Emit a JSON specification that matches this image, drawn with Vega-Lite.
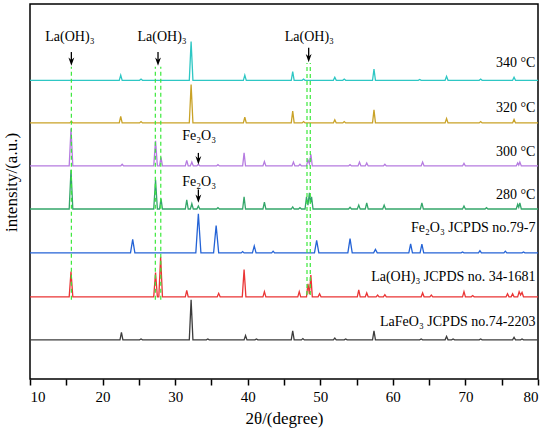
{
  "$schema": "https://vega.github.io/schema/vega-lite/v6.json",
  "width": 508,
  "height": 375,
  "autosize": "none",
  "padding": {"left": 30, "top": 4, "right": 12, "bottom": 51},
  "config": {
    "font": "Liberation Serif",
    "view": {"stroke": "#000000", "strokeWidth": 1.5}
  },
  "datasets": {
    "spectra": [
      {"sample":"c340","theta":10,"y":6.87},{"sample":"c340","theta":22.3,"y":6.87},{"sample":"c340","theta":22.5,"y":6.99},{"sample":"c340","theta":22.7,"y":6.87},{"sample":"c340","theta":25.1,"y":6.87},{"sample":"c340","theta":25.3,"y":6.9},{"sample":"c340","theta":25.5,"y":6.87},{"sample":"c340","theta":31.95,"y":6.87},{"sample":"c340","theta":32.2,"y":7.76},{"sample":"c340","theta":32.45,"y":6.87},{"sample":"c340","theta":39.4,"y":6.87},{"sample":"c340","theta":39.6,"y":6.99},{"sample":"c340","theta":39.8,"y":6.87},{"sample":"c340","theta":46.0,"y":6.87},{"sample":"c340","theta":46.2,"y":7.07},{"sample":"c340","theta":46.4,"y":6.87},{"sample":"c340","theta":47.5,"y":6.87},{"sample":"c340","theta":47.7,"y":6.9},{"sample":"c340","theta":47.9,"y":6.87},{"sample":"c340","theta":51.8,"y":6.87},{"sample":"c340","theta":52.0,"y":6.94},{"sample":"c340","theta":52.2,"y":6.87},{"sample":"c340","theta":53.1,"y":6.87},{"sample":"c340","theta":53.3,"y":6.9},{"sample":"c340","theta":53.5,"y":6.87},{"sample":"c340","theta":57.2,"y":6.87},{"sample":"c340","theta":57.4,"y":7.13},{"sample":"c340","theta":57.6,"y":6.87},{"sample":"c340","theta":63.5,"y":6.87},{"sample":"c340","theta":63.7,"y":6.89},{"sample":"c340","theta":63.9,"y":6.87},{"sample":"c340","theta":67.2,"y":6.87},{"sample":"c340","theta":67.4,"y":6.96},{"sample":"c340","theta":67.6,"y":6.87},{"sample":"c340","theta":71.9,"y":6.87},{"sample":"c340","theta":72.1,"y":6.9},{"sample":"c340","theta":72.3,"y":6.87},{"sample":"c340","theta":76.5,"y":6.87},{"sample":"c340","theta":76.7,"y":6.94},{"sample":"c340","theta":76.9,"y":6.87},{"sample":"c340","theta":80,"y":6.87},

      {"sample":"c320","theta":10,"y":5.89},{"sample":"c320","theta":15.5,"y":5.89},{"sample":"c320","theta":15.7,"y":5.93},{"sample":"c320","theta":15.9,"y":5.89},{"sample":"c320","theta":22.3,"y":5.89},{"sample":"c320","theta":22.5,"y":6.04},{"sample":"c320","theta":22.7,"y":5.89},{"sample":"c320","theta":25.1,"y":5.89},{"sample":"c320","theta":25.3,"y":5.92},{"sample":"c320","theta":25.5,"y":5.89},{"sample":"c320","theta":31.95,"y":5.89},{"sample":"c320","theta":32.2,"y":6.77},{"sample":"c320","theta":32.45,"y":5.89},{"sample":"c320","theta":39.4,"y":5.89},{"sample":"c320","theta":39.6,"y":6.02},{"sample":"c320","theta":39.8,"y":5.89},{"sample":"c320","theta":46.0,"y":5.89},{"sample":"c320","theta":46.2,"y":6.16},{"sample":"c320","theta":46.4,"y":5.89},{"sample":"c320","theta":47.5,"y":5.89},{"sample":"c320","theta":47.7,"y":5.92},{"sample":"c320","theta":47.9,"y":5.89},{"sample":"c320","theta":51.8,"y":5.89},{"sample":"c320","theta":52.0,"y":5.96},{"sample":"c320","theta":52.2,"y":5.89},{"sample":"c320","theta":53.1,"y":5.89},{"sample":"c320","theta":53.3,"y":5.92},{"sample":"c320","theta":53.5,"y":5.89},{"sample":"c320","theta":57.2,"y":5.89},{"sample":"c320","theta":57.4,"y":6.19},{"sample":"c320","theta":57.6,"y":5.89},{"sample":"c320","theta":67.2,"y":5.89},{"sample":"c320","theta":67.4,"y":5.99},{"sample":"c320","theta":67.6,"y":5.89},{"sample":"c320","theta":71.9,"y":5.89},{"sample":"c320","theta":72.1,"y":5.92},{"sample":"c320","theta":72.3,"y":5.89},{"sample":"c320","theta":76.5,"y":5.89},{"sample":"c320","theta":76.7,"y":5.97},{"sample":"c320","theta":76.9,"y":5.89},{"sample":"c320","theta":80,"y":5.89},

      {"sample":"c300","theta":10,"y":4.9},{"sample":"c300","theta":15.4,"y":4.9},{"sample":"c300","theta":15.65,"y":5.76},{"sample":"c300","theta":15.9,"y":4.9},{"sample":"c300","theta":22.5,"y":4.9},{"sample":"c300","theta":22.7,"y":4.94},{"sample":"c300","theta":22.9,"y":4.9},{"sample":"c300","theta":27.05,"y":4.9},{"sample":"c300","theta":27.3,"y":5.48},{"sample":"c300","theta":27.55,"y":4.9},{"sample":"c300","theta":27.85,"y":4.9},{"sample":"c300","theta":28.05,"y":5.1},{"sample":"c300","theta":28.25,"y":4.9},{"sample":"c300","theta":31.4,"y":4.9},{"sample":"c300","theta":31.6,"y":5.03},{"sample":"c300","theta":31.8,"y":4.9},{"sample":"c300","theta":32.1,"y":4.9},{"sample":"c300","theta":32.3,"y":4.99},{"sample":"c300","theta":32.5,"y":4.9},{"sample":"c300","theta":33.0,"y":4.9},{"sample":"c300","theta":33.2,"y":4.94},{"sample":"c300","theta":33.4,"y":4.9},{"sample":"c300","theta":35.7,"y":4.9},{"sample":"c300","theta":35.9,"y":4.93},{"sample":"c300","theta":36.1,"y":4.9},{"sample":"c300","theta":39.3,"y":4.9},{"sample":"c300","theta":39.5,"y":5.2},{"sample":"c300","theta":39.7,"y":4.9},{"sample":"c300","theta":42.1,"y":4.9},{"sample":"c300","theta":42.3,"y":5.0},{"sample":"c300","theta":42.5,"y":4.9},{"sample":"c300","theta":46.1,"y":4.9},{"sample":"c300","theta":46.3,"y":4.99},{"sample":"c300","theta":46.5,"y":4.9},{"sample":"c300","theta":47.0,"y":4.9},{"sample":"c300","theta":47.2,"y":4.94},{"sample":"c300","theta":47.4,"y":4.9},{"sample":"c300","theta":48.1,"y":4.9},{"sample":"c300","theta":48.3,"y":5.04},{"sample":"c300","theta":48.5,"y":4.95},{"sample":"c300","theta":48.7,"y":5.17},{"sample":"c300","theta":48.9,"y":4.9},{"sample":"c300","theta":53.9,"y":4.9},{"sample":"c300","theta":54.1,"y":4.93},{"sample":"c300","theta":54.3,"y":4.9},{"sample":"c300","theta":55.2,"y":4.9},{"sample":"c300","theta":55.4,"y":4.99},{"sample":"c300","theta":55.6,"y":4.9},{"sample":"c300","theta":56.2,"y":4.9},{"sample":"c300","theta":56.4,"y":4.97},{"sample":"c300","theta":56.6,"y":4.9},{"sample":"c300","theta":58.7,"y":4.9},{"sample":"c300","theta":58.9,"y":4.94},{"sample":"c300","theta":59.1,"y":4.9},{"sample":"c300","theta":63.9,"y":4.9},{"sample":"c300","theta":64.1,"y":4.99},{"sample":"c300","theta":64.3,"y":4.9},{"sample":"c300","theta":69.6,"y":4.9},{"sample":"c300","theta":69.8,"y":4.96},{"sample":"c300","theta":70.0,"y":4.9},{"sample":"c300","theta":77.0,"y":4.9},{"sample":"c300","theta":77.2,"y":4.97},{"sample":"c300","theta":77.35,"y":4.92},{"sample":"c300","theta":77.5,"y":4.99},{"sample":"c300","theta":77.7,"y":4.9},{"sample":"c300","theta":80,"y":4.9},

      {"sample":"c280","theta":10,"y":3.91},{"sample":"c280","theta":15.4,"y":3.91},{"sample":"c280","theta":15.65,"y":4.81},{"sample":"c280","theta":15.9,"y":3.91},{"sample":"c280","theta":27.05,"y":3.91},{"sample":"c280","theta":27.3,"y":4.58},{"sample":"c280","theta":27.55,"y":3.91},{"sample":"c280","theta":27.85,"y":3.91},{"sample":"c280","theta":28.05,"y":4.15},{"sample":"c280","theta":28.25,"y":3.91},{"sample":"c280","theta":31.4,"y":3.91},{"sample":"c280","theta":31.6,"y":4.12},{"sample":"c280","theta":31.8,"y":3.91},{"sample":"c280","theta":32.1,"y":3.91},{"sample":"c280","theta":32.3,"y":4.03},{"sample":"c280","theta":32.5,"y":3.91},{"sample":"c280","theta":33.0,"y":3.91},{"sample":"c280","theta":33.2,"y":3.98},{"sample":"c280","theta":33.4,"y":3.91},{"sample":"c280","theta":35.7,"y":3.91},{"sample":"c280","theta":35.9,"y":3.94},{"sample":"c280","theta":36.1,"y":3.91},{"sample":"c280","theta":39.3,"y":3.91},{"sample":"c280","theta":39.5,"y":4.19},{"sample":"c280","theta":39.7,"y":3.91},{"sample":"c280","theta":42.1,"y":3.91},{"sample":"c280","theta":42.3,"y":4.07},{"sample":"c280","theta":42.5,"y":3.91},{"sample":"c280","theta":46.0,"y":3.91},{"sample":"c280","theta":46.2,"y":3.96},{"sample":"c280","theta":46.4,"y":3.91},{"sample":"c280","theta":47.0,"y":3.91},{"sample":"c280","theta":47.2,"y":3.94},{"sample":"c280","theta":47.4,"y":3.91},{"sample":"c280","theta":47.9,"y":3.91},{"sample":"c280","theta":48.1,"y":4.19},{"sample":"c280","theta":48.3,"y":4.0},{"sample":"c280","theta":48.5,"y":4.28},{"sample":"c280","theta":48.65,"y":4.05},{"sample":"c280","theta":48.8,"y":4.19},{"sample":"c280","theta":49.0,"y":3.91},{"sample":"c280","theta":53.9,"y":3.91},{"sample":"c280","theta":54.1,"y":3.95},{"sample":"c280","theta":54.3,"y":3.91},{"sample":"c280","theta":55.1,"y":3.91},{"sample":"c280","theta":55.3,"y":4.0},{"sample":"c280","theta":55.5,"y":3.91},{"sample":"c280","theta":56.2,"y":3.91},{"sample":"c280","theta":56.4,"y":4.05},{"sample":"c280","theta":56.6,"y":3.91},{"sample":"c280","theta":58.6,"y":3.91},{"sample":"c280","theta":58.8,"y":4.0},{"sample":"c280","theta":59.0,"y":3.91},{"sample":"c280","theta":63.8,"y":3.91},{"sample":"c280","theta":64.0,"y":4.05},{"sample":"c280","theta":64.2,"y":3.91},{"sample":"c280","theta":69.6,"y":3.91},{"sample":"c280","theta":69.8,"y":3.98},{"sample":"c280","theta":70.0,"y":3.91},{"sample":"c280","theta":72.7,"y":3.91},{"sample":"c280","theta":72.9,"y":3.94},{"sample":"c280","theta":73.1,"y":3.91},{"sample":"c280","theta":77.0,"y":3.91},{"sample":"c280","theta":77.2,"y":4.02},{"sample":"c280","theta":77.35,"y":3.95},{"sample":"c280","theta":77.5,"y":4.05},{"sample":"c280","theta":77.7,"y":3.91},{"sample":"c280","theta":80,"y":3.91},

      {"sample":"fe2o3","theta":10,"y":2.9},{"sample":"fe2o3","theta":23.85,"y":2.9},{"sample":"fe2o3","theta":24.15,"y":3.21},{"sample":"fe2o3","theta":24.45,"y":2.9},{"sample":"fe2o3","theta":32.85,"y":2.9},{"sample":"fe2o3","theta":33.2,"y":3.8},{"sample":"fe2o3","theta":33.55,"y":2.9},{"sample":"fe2o3","theta":35.3,"y":2.9},{"sample":"fe2o3","theta":35.65,"y":3.53},{"sample":"fe2o3","theta":36.0,"y":2.9},{"sample":"fe2o3","theta":39.1,"y":2.9},{"sample":"fe2o3","theta":39.3,"y":2.93},{"sample":"fe2o3","theta":39.5,"y":2.9},{"sample":"fe2o3","theta":40.65,"y":2.9},{"sample":"fe2o3","theta":40.9,"y":3.06},{"sample":"fe2o3","theta":41.15,"y":2.9},{"sample":"fe2o3","theta":43.3,"y":2.9},{"sample":"fe2o3","theta":43.5,"y":2.94},{"sample":"fe2o3","theta":43.7,"y":2.9},{"sample":"fe2o3","theta":49.2,"y":2.9},{"sample":"fe2o3","theta":49.5,"y":3.19},{"sample":"fe2o3","theta":49.8,"y":2.9},{"sample":"fe2o3","theta":53.8,"y":2.9},{"sample":"fe2o3","theta":54.1,"y":3.23},{"sample":"fe2o3","theta":54.4,"y":2.9},{"sample":"fe2o3","theta":57.35,"y":2.9},{"sample":"fe2o3","theta":57.6,"y":2.98},{"sample":"fe2o3","theta":57.85,"y":2.9},{"sample":"fe2o3","theta":62.2,"y":2.9},{"sample":"fe2o3","theta":62.45,"y":3.11},{"sample":"fe2o3","theta":62.7,"y":2.9},{"sample":"fe2o3","theta":63.75,"y":2.9},{"sample":"fe2o3","theta":64.0,"y":3.1},{"sample":"fe2o3","theta":64.25,"y":2.9},{"sample":"fe2o3","theta":69.4,"y":2.9},{"sample":"fe2o3","theta":69.6,"y":2.92},{"sample":"fe2o3","theta":69.8,"y":2.9},{"sample":"fe2o3","theta":71.8,"y":2.9},{"sample":"fe2o3","theta":72.0,"y":2.95},{"sample":"fe2o3","theta":72.2,"y":2.9},{"sample":"fe2o3","theta":75.3,"y":2.9},{"sample":"fe2o3","theta":75.5,"y":2.94},{"sample":"fe2o3","theta":75.7,"y":2.9},{"sample":"fe2o3","theta":77.8,"y":2.9},{"sample":"fe2o3","theta":78.0,"y":2.92},{"sample":"fe2o3","theta":78.2,"y":2.9},{"sample":"fe2o3","theta":80,"y":2.9},

      {"sample":"laoh3","theta":10,"y":1.89},{"sample":"laoh3","theta":15.4,"y":1.89},{"sample":"laoh3","theta":15.65,"y":2.47},{"sample":"laoh3","theta":15.9,"y":1.89},{"sample":"laoh3","theta":27.05,"y":1.89},{"sample":"laoh3","theta":27.3,"y":2.45},{"sample":"laoh3","theta":27.55,"y":1.89},{"sample":"laoh3","theta":27.75,"y":1.89},{"sample":"laoh3","theta":28.0,"y":2.81},{"sample":"laoh3","theta":28.25,"y":1.89},{"sample":"laoh3","theta":31.4,"y":1.89},{"sample":"laoh3","theta":31.6,"y":2.04},{"sample":"laoh3","theta":31.8,"y":1.89},{"sample":"laoh3","theta":35.8,"y":1.89},{"sample":"laoh3","theta":36.0,"y":1.97},{"sample":"laoh3","theta":36.2,"y":1.89},{"sample":"laoh3","theta":39.25,"y":1.89},{"sample":"laoh3","theta":39.5,"y":2.52},{"sample":"laoh3","theta":39.75,"y":1.89},{"sample":"laoh3","theta":42.1,"y":1.89},{"sample":"laoh3","theta":42.3,"y":2.01},{"sample":"laoh3","theta":42.5,"y":1.89},{"sample":"laoh3","theta":46.9,"y":1.89},{"sample":"laoh3","theta":47.1,"y":2.01},{"sample":"laoh3","theta":47.3,"y":1.89},{"sample":"laoh3","theta":48.1,"y":1.89},{"sample":"laoh3","theta":48.3,"y":2.19},{"sample":"laoh3","theta":48.5,"y":1.95},{"sample":"laoh3","theta":48.7,"y":2.39},{"sample":"laoh3","theta":48.9,"y":1.89},{"sample":"laoh3","theta":49.7,"y":1.89},{"sample":"laoh3","theta":49.9,"y":1.96},{"sample":"laoh3","theta":50.1,"y":1.89},{"sample":"laoh3","theta":55.1,"y":1.89},{"sample":"laoh3","theta":55.3,"y":2.05},{"sample":"laoh3","theta":55.5,"y":1.89},{"sample":"laoh3","theta":56.2,"y":1.89},{"sample":"laoh3","theta":56.4,"y":1.98},{"sample":"laoh3","theta":56.6,"y":1.89},{"sample":"laoh3","theta":57.7,"y":1.89},{"sample":"laoh3","theta":57.9,"y":1.93},{"sample":"laoh3","theta":58.1,"y":1.89},{"sample":"laoh3","theta":58.7,"y":1.89},{"sample":"laoh3","theta":58.9,"y":1.94},{"sample":"laoh3","theta":59.1,"y":1.89},{"sample":"laoh3","theta":63.9,"y":1.89},{"sample":"laoh3","theta":64.1,"y":1.98},{"sample":"laoh3","theta":64.3,"y":1.89},{"sample":"laoh3","theta":65.1,"y":1.89},{"sample":"laoh3","theta":65.3,"y":1.93},{"sample":"laoh3","theta":65.5,"y":1.89},{"sample":"laoh3","theta":69.6,"y":1.89},{"sample":"laoh3","theta":69.8,"y":2.01},{"sample":"laoh3","theta":70.0,"y":1.89},{"sample":"laoh3","theta":70.8,"y":1.89},{"sample":"laoh3","theta":71.0,"y":1.92},{"sample":"laoh3","theta":71.2,"y":1.89},{"sample":"laoh3","theta":75.6,"y":1.89},{"sample":"laoh3","theta":75.8,"y":1.96},{"sample":"laoh3","theta":76.0,"y":1.89},{"sample":"laoh3","theta":76.3,"y":1.89},{"sample":"laoh3","theta":76.5,"y":1.96},{"sample":"laoh3","theta":76.7,"y":1.89},{"sample":"laoh3","theta":77.2,"y":1.89},{"sample":"laoh3","theta":77.4,"y":2.01},{"sample":"laoh3","theta":77.6,"y":1.93},{"sample":"laoh3","theta":77.8,"y":1.99},{"sample":"laoh3","theta":78.0,"y":1.89},{"sample":"laoh3","theta":80,"y":1.89},

      {"sample":"lafeo3","theta":10,"y":0.9},{"sample":"lafeo3","theta":22.4,"y":0.9},{"sample":"lafeo3","theta":22.6,"y":1.07},{"sample":"lafeo3","theta":22.8,"y":0.9},{"sample":"lafeo3","theta":25.1,"y":0.9},{"sample":"lafeo3","theta":25.3,"y":0.92},{"sample":"lafeo3","theta":25.5,"y":0.9},{"sample":"lafeo3","theta":31.95,"y":0.9},{"sample":"lafeo3","theta":32.2,"y":1.82},{"sample":"lafeo3","theta":32.45,"y":0.9},{"sample":"lafeo3","theta":34.3,"y":0.9},{"sample":"lafeo3","theta":34.5,"y":0.92},{"sample":"lafeo3","theta":34.7,"y":0.9},{"sample":"lafeo3","theta":39.5,"y":0.9},{"sample":"lafeo3","theta":39.7,"y":1.0},{"sample":"lafeo3","theta":39.9,"y":0.9},{"sample":"lafeo3","theta":41.0,"y":0.9},{"sample":"lafeo3","theta":41.2,"y":0.92},{"sample":"lafeo3","theta":41.4,"y":0.9},{"sample":"lafeo3","theta":46.0,"y":0.9},{"sample":"lafeo3","theta":46.2,"y":1.11},{"sample":"lafeo3","theta":46.4,"y":0.9},{"sample":"lafeo3","theta":47.4,"y":0.9},{"sample":"lafeo3","theta":47.6,"y":0.93},{"sample":"lafeo3","theta":47.8,"y":0.9},{"sample":"lafeo3","theta":51.8,"y":0.9},{"sample":"lafeo3","theta":52.0,"y":0.94},{"sample":"lafeo3","theta":52.2,"y":0.9},{"sample":"lafeo3","theta":53.3,"y":0.9},{"sample":"lafeo3","theta":53.5,"y":0.92},{"sample":"lafeo3","theta":53.7,"y":0.9},{"sample":"lafeo3","theta":57.2,"y":0.9},{"sample":"lafeo3","theta":57.4,"y":1.11},{"sample":"lafeo3","theta":57.6,"y":0.9},{"sample":"lafeo3","theta":63.7,"y":0.9},{"sample":"lafeo3","theta":63.9,"y":0.92},{"sample":"lafeo3","theta":64.1,"y":0.9},{"sample":"lafeo3","theta":67.2,"y":0.9},{"sample":"lafeo3","theta":67.4,"y":0.98},{"sample":"lafeo3","theta":67.6,"y":0.9},{"sample":"lafeo3","theta":68.1,"y":0.9},{"sample":"lafeo3","theta":68.3,"y":0.92},{"sample":"lafeo3","theta":68.5,"y":0.9},{"sample":"lafeo3","theta":71.9,"y":0.9},{"sample":"lafeo3","theta":72.1,"y":0.92},{"sample":"lafeo3","theta":72.3,"y":0.9},{"sample":"lafeo3","theta":76.5,"y":0.9},{"sample":"lafeo3","theta":76.7,"y":0.96},{"sample":"lafeo3","theta":76.9,"y":0.9},{"sample":"lafeo3","theta":77.6,"y":0.9},{"sample":"lafeo3","theta":77.8,"y":0.92},{"sample":"lafeo3","theta":78.0,"y":0.9},{"sample":"lafeo3","theta":80,"y":0.9}
    ],
    "guides": [
      {"theta": 15.7, "y": 1.82, "y_end": 7.18},
      {"theta": 27.27, "y": 1.82, "y_end": 7.18},
      {"theta": 28.02, "y": 1.82, "y_end": 7.18},
      {"theta": 48.17, "y": 1.93, "y_end": 7.27},
      {"theta": 48.62, "y": 1.93, "y_end": 7.27}
    ],
    "stems": [
      {"theta": 15.7, "y": 7.52, "head": 7.3},
      {"theta": 27.64, "y": 7.52, "head": 7.3},
      {"theta": 48.4, "y": 7.62, "head": 7.38},
      {"theta": 33.2, "y": 5.2, "head": 5.03},
      {"theta": 33.2, "y": 4.36, "head": 4.15}
    ],
    "heads": [
      {"theta": 15.7, "y": 7.3},
      {"theta": 27.64, "y": 7.3},
      {"theta": 48.4, "y": 7.38},
      {"theta": 33.2, "y": 5.03},
      {"theta": 33.2, "y": 4.15}
    ],
    "notes": [
      {"theta": 15.5, "y": 7.87, "label": "La(OH)₃"},
      {"theta": 28.2, "y": 7.87, "label": "La(OH)₃"},
      {"theta": 48.5, "y": 7.87, "label": "La(OH)₃"},
      {"theta": 33.3, "y": 5.59, "label": "Fe₂O₃"},
      {"theta": 33.3, "y": 4.54, "label": "Fe₂O₃"}
    ],
    "names": [
      {"theta": 79.65, "y": 7.27, "label": "340 °C"},
      {"theta": 79.65, "y": 6.23, "label": "320 °C"},
      {"theta": 79.65, "y": 5.22, "label": "300 °C"},
      {"theta": 79.65, "y": 4.23, "label": "280 °C"},
      {"theta": 79.65, "y": 3.47, "label": "Fe₂O₃ JCPDS no.79-7"},
      {"theta": 79.65, "y": 2.35, "label": "La(OH)₃ JCPDS no. 34-1681"},
      {"theta": 79.65, "y": 1.31, "label": "LaFeO₃ JCPDS no.74-2203"}
    ]
  },
  "encoding": {
    "x": {
      "field": "theta",
      "type": "quantitative",
      "scale": {"domain": [10, 80], "nice": false, "zero": false},
      "axis": {
        "title": "2θ/(degree)",
        "titleFont": "Liberation Serif",
        "titleFontSize": 17,
        "titleFontWeight": "normal",
        "titleColor": "#000000",
        "titlePadding": 6,
        "values": [10, 15, 20, 25, 30, 35, 40, 45, 50, 55, 60, 65, 70, 75, 80],
        "labelExpr": "datum.value % 10 === 0 ? datum.label : ''",
        "labelFont": "Liberation Serif",
        "labelFontSize": 15,
        "labelColor": "#000000",
        "labelPadding": 4,
        "tickColor": "#000000",
        "tickWidth": 1.5,
        "tickSize": 6,
        "grid": false,
        "domain": false
      }
    },
    "y": {
      "field": "y",
      "type": "quantitative",
      "scale": {"domain": [0, 8.625], "nice": false, "zero": false},
      "axis": {
        "title": "intensity/(a.u.)",
        "titleFont": "Liberation Serif",
        "titleFontSize": 17,
        "titleFontWeight": "normal",
        "titleColor": "#000000",
        "titlePadding": 10,
        "titleY": 178,
        "labels": false,
        "ticks": false,
        "grid": false,
        "domain": false
      }
    }
  },
  "layer": [
    {
      "data": {"name": "spectra"},
      "mark": {"type": "line", "strokeWidth": 1.3, "interpolate": "linear"},
      "encoding": {
        "color": {
          "field": "sample",
          "type": "nominal",
          "scale": {
            "domain": ["c340", "c320", "c300", "c280", "fe2o3", "laoh3", "lafeo3"],
            "range": ["#2ec7c4", "#c9a227", "#b57be0", "#34a66a", "#2463d6", "#ea3535", "#3c3c3c"]
          },
          "legend": null
        }
      }
    },
    {
      "data": {"name": "guides"},
      "mark": {"type": "rule", "color": "#3be83b", "strokeWidth": 1.2, "strokeDash": [4, 3]},
      "encoding": {
        "y2": {"field": "y_end"}
      }
    },
    {
      "data": {"name": "stems"},
      "mark": {"type": "rule", "color": "#000000", "strokeWidth": 1.3},
      "encoding": {
        "y2": {"field": "head"}
      }
    },
    {
      "data": {"name": "heads"},
      "mark": {"type": "point", "shape": "M0,1L-0.7,-1L0,-0.4L0.7,-1Z", "filled": true, "color": "#000000", "opacity": 1, "size": 70}
    },
    {
      "data": {"name": "notes"},
      "mark": {"type": "text", "font": "Liberation Serif", "fontSize": 14, "color": "#000000", "align": "center", "baseline": "middle"},
      "encoding": {
        "text": {"field": "label"}
      }
    },
    {
      "data": {"name": "names"},
      "mark": {"type": "text", "font": "Liberation Serif", "fontSize": 14, "color": "#000000", "align": "right", "baseline": "middle"},
      "encoding": {
        "text": {"field": "label"}
      }
    }
  ]
}
